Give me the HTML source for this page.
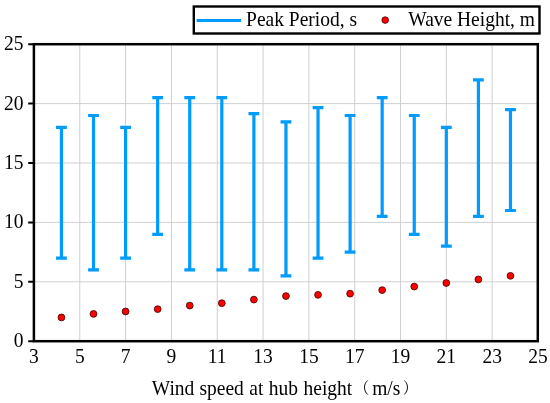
<!DOCTYPE html>
<html><head><meta charset="utf-8"><title>Chart</title>
<style>html,body{margin:0;padding:0;background:#fff;width:550px;height:403px;overflow:hidden}svg{display:block}</style>
</head><body>
<svg width="550" height="403" viewBox="0 0 550 403"><rect x="0" y="0" width="550" height="403" fill="#fff"/><path d="M79.77 44.20V341.20M125.59 44.20V341.20M171.41 44.20V341.20M217.23 44.20V341.20M263.05 44.20V341.20M308.87 44.20V341.20M354.69 44.20V341.20M400.51 44.20V341.20M446.33 44.20V341.20M492.15 44.20V341.20M33.90 281.80H537.80M33.90 222.40H537.80M33.90 163.00H537.80M33.90 103.60H537.80" stroke="#d0d0d0" stroke-width="1" fill="none"/><path d="M61.44 127.36V258.04M56.04 127.36H66.84M56.04 258.04H66.84M93.52 115.48V269.92M88.12 115.48H98.92M88.12 269.92H98.92M125.59 127.36V258.04M120.19 127.36H130.99M120.19 258.04H130.99M157.66 97.66V234.28M152.26 97.66H163.06M152.26 234.28H163.06M189.74 97.66V269.92M184.34 97.66H195.14M184.34 269.92H195.14M221.81 97.66V269.92M216.41 97.66H227.21M216.41 269.92H227.21M253.89 113.58V269.92M248.49 113.58H259.29M248.49 269.92H259.29M285.96 121.90V275.86M280.56 121.90H291.36M280.56 275.86H291.36M318.03 107.64V258.04M312.63 107.64H323.43M312.63 258.04H323.43M350.11 115.48V252.10M344.71 115.48H355.51M344.71 252.10H355.51M382.18 97.66V216.46M376.78 97.66H387.58M376.78 216.46H387.58M414.26 115.48V234.28M408.86 115.48H419.66M408.86 234.28H419.66M446.33 127.36V246.16M440.93 127.36H451.73M440.93 246.16H451.73M478.40 79.84V216.46M473.00 79.84H483.80M473.00 216.46H483.80M510.48 109.54V210.52M505.08 109.54H515.88M505.08 210.52H515.88" stroke="#009bff" stroke-width="3.2" fill="none"/><circle cx="61.44" cy="317.44" r="3.4" fill="#ff0000" stroke="#3a0000" stroke-width="0.8"/><circle cx="93.52" cy="313.88" r="3.4" fill="#ff0000" stroke="#3a0000" stroke-width="0.8"/><circle cx="125.59" cy="311.50" r="3.4" fill="#ff0000" stroke="#3a0000" stroke-width="0.8"/><circle cx="157.66" cy="309.12" r="3.4" fill="#ff0000" stroke="#3a0000" stroke-width="0.8"/><circle cx="189.74" cy="305.56" r="3.4" fill="#ff0000" stroke="#3a0000" stroke-width="0.8"/><circle cx="221.81" cy="303.18" r="3.4" fill="#ff0000" stroke="#3a0000" stroke-width="0.8"/><circle cx="253.89" cy="299.62" r="3.4" fill="#ff0000" stroke="#3a0000" stroke-width="0.8"/><circle cx="285.96" cy="296.06" r="3.4" fill="#ff0000" stroke="#3a0000" stroke-width="0.8"/><circle cx="318.03" cy="294.87" r="3.4" fill="#ff0000" stroke="#3a0000" stroke-width="0.8"/><circle cx="350.11" cy="293.68" r="3.4" fill="#ff0000" stroke="#3a0000" stroke-width="0.8"/><circle cx="382.18" cy="290.12" r="3.4" fill="#ff0000" stroke="#3a0000" stroke-width="0.8"/><circle cx="414.26" cy="286.55" r="3.4" fill="#ff0000" stroke="#3a0000" stroke-width="0.8"/><circle cx="446.33" cy="282.99" r="3.4" fill="#ff0000" stroke="#3a0000" stroke-width="0.8"/><circle cx="478.40" cy="279.42" r="3.4" fill="#ff0000" stroke="#3a0000" stroke-width="0.8"/><circle cx="510.48" cy="275.86" r="3.4" fill="#ff0000" stroke="#3a0000" stroke-width="0.8"/><rect x="33.9" y="44.2" width="503.90" height="297.00" fill="none" stroke="#000" stroke-width="2.5"/><path d="M28.2 341.20H33.90M28.2 281.80H33.90M28.2 222.40H33.90M28.2 163.00H33.90M28.2 103.60H33.90M28.2 44.20H33.90" stroke="#000" stroke-width="2" fill="none"/><g font-family="'Liberation Serif', 'Noto Serif CJK SC', serif" fill="#000"><text transform="translate(23.40 347.10) scale(1 1.06)" font-size="19.5" text-anchor="end">0</text><text transform="translate(23.40 287.70) scale(1 1.06)" font-size="19.5" text-anchor="end">5</text><text transform="translate(23.40 228.30) scale(1 1.06)" font-size="19.5" text-anchor="end">10</text><text transform="translate(23.40 168.90) scale(1 1.06)" font-size="19.5" text-anchor="end">15</text><text transform="translate(23.40 109.50) scale(1 1.06)" font-size="19.5" text-anchor="end">20</text><text transform="translate(23.40 50.10) scale(1 1.06)" font-size="19.5" text-anchor="end">25</text><text transform="translate(33.95 363.20) scale(1 1.06)" font-size="19.5" text-anchor="middle">3</text><text transform="translate(79.77 363.20) scale(1 1.06)" font-size="19.5" text-anchor="middle">5</text><text transform="translate(125.59 363.20) scale(1 1.06)" font-size="19.5" text-anchor="middle">7</text><text transform="translate(171.41 363.20) scale(1 1.06)" font-size="19.5" text-anchor="middle">9</text><text transform="translate(217.23 363.20) scale(1 1.06)" font-size="19.5" text-anchor="middle">11</text><text transform="translate(263.05 363.20) scale(1 1.06)" font-size="19.5" text-anchor="middle">13</text><text transform="translate(308.87 363.20) scale(1 1.06)" font-size="19.5" text-anchor="middle">15</text><text transform="translate(354.69 363.20) scale(1 1.06)" font-size="19.5" text-anchor="middle">17</text><text transform="translate(400.51 363.20) scale(1 1.06)" font-size="19.5" text-anchor="middle">19</text><text transform="translate(446.33 363.20) scale(1 1.06)" font-size="19.5" text-anchor="middle">21</text><text transform="translate(492.15 363.20) scale(1 1.06)" font-size="19.5" text-anchor="middle">23</text><text transform="translate(537.97 363.20) scale(1 1.06)" font-size="19.5" text-anchor="middle">25</text><text transform="translate(151.80 395.10) scale(1 1.06)" font-size="19.5">Wind <tspan dx="0.3">speed</tspan> <tspan dx="0.6">at</tspan> <tspan dx="0.5">hub</tspan> <tspan dx="0.6">height</tspan><tspan font-size="15" dx="2.0" dy="-1.9">（</tspan><tspan dx="3.0" dy="1.9">m/s</tspan><tspan dx="2.3" dy="-1.9" font-size="15">）</tspan></text></g><rect x="193.8" y="6.5" width="345.7" height="27" fill="#fff" stroke="#000" stroke-width="2.4"/><path d="M196.6 20.4H241" stroke="#009bff" stroke-width="3" fill="none"/><circle cx="385.2" cy="20.1" r="3.3" fill="#ff0000" stroke="#3a0000" stroke-width="0.8"/><g font-family="'Liberation Serif', 'Noto Serif CJK SC', serif" fill="#000"><text transform="translate(246.05 26.10) scale(1 1.06)" font-size="19.5">Peak Period, s</text><text transform="translate(408.30 26.10) scale(1 1.06)" font-size="19.5">Wave Height, m</text></g></svg>
</body></html>
